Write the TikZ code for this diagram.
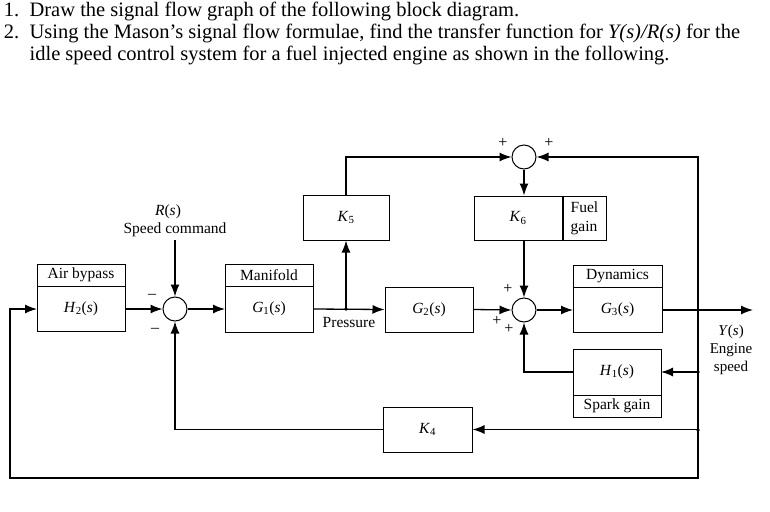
\documentclass[tikz,border=0pt]{standalone}
\usepackage{fontspec}
\setmainfont{Liberation Serif}
\usetikzlibrary{arrows.meta}
\newcommand{\tfn}[2]{\textit{#1}\textsubscript{#2}(\textit{s})}
\newcommand{\gn}[2]{\textit{#1}\textsubscript{#2}}
\begin{document}
\begin{tikzpicture}[x=1pt,y=-1pt,line width=1.3pt,
  blk/.style={draw,line width=1pt,inner sep=0pt},
  sum/.style={draw,line width=1pt,circle,minimum size=24pt,inner sep=0pt},
  lab/.style={font=\fontsize{15.5}{18}\selectfont},
  sg/.style={font=\fontsize{16}{16}\selectfont},
  hd/.style={anchor=west,font=\fontsize{20.5}{22}\selectfont},
  ar/.style={-{Latex[length=12pt,width=9pt]}}]
\useasboundingbox (0,0) rectangle (770,511);
% header
\node[hd] (q1) at (0,11) {1.\ \ Draw the signal flow graph of the following block diagram.};
\node[hd] (q2) at (0,33) {2.\ \ Using the Mason’s signal flow formulae, find the transfer function for \textit{Y(s)/R(s)} for the};
\node[hd] (q3) at (0,55) {\phantom{2.\ \ }idle speed control system for a fuel injected engine as shown in the following.};
% blocks
\draw[blk] (37,264) rectangle (125,331); \draw[line width=1pt] (37,286)--(125,286);
\node[lab] (ab) at (81,275) {Air bypass};
\node[lab] (h2) at (81,309) {\tfn{H}{2}};
\coordinate (h2w) at (37,309); \coordinate (h2e) at (125,309);
\draw[blk] (225,264) rectangle (313,332); \draw[line width=1pt] (225,286)--(313,286);
\node[lab] (mf) at (269,275) {Manifold};
\node[lab] (g1) at (269,309) {\tfn{G}{1}};
\coordinate (g1w) at (225,309); \coordinate (g1e) at (313,309);
\node[blk,minimum width=86pt,minimum height=45pt,lab] (k5) at (346,217.5) {\gn{K}{5}};
\node[blk,minimum width=88pt,minimum height=45pt,lab] (g2) at (429,309.5) {\tfn{G}{2}};
\node[blk,minimum width=88pt,minimum height=44pt,lab] (k6) at (518,218) {\gn{K}{6}};
\node[blk,anchor=west,minimum width=43pt,minimum height=44pt,lab,align=left,font=\fontsize{15.5}{19}\selectfont] (fg) at (k6.east) {Fuel\\gain};
\draw[blk] (573,265) rectangle (662,332); \draw[line width=1pt] (573,287)--(662,287);
\node[lab] (dy) at (617.5,276) {Dynamics};
\node[lab] (g3) at (617.5,310) {\tfn{G}{3}};
\coordinate (g3w) at (573,310); \coordinate (g3e) at (662,310);
\draw[blk] (573,349) rectangle (661,417); \draw[line width=1pt] (573,395)--(661,395);
\node[lab] (h1) at (617,372) {\tfn{H}{1}};
\node[lab] (sp) at (617,406) {Spark gain};
\coordinate (h1w) at (573,372); \coordinate (h1e) at (661,372);
\node[blk,minimum width=89pt,minimum height=45pt,lab] (k4) at (427.5,429.5) {\gn{K}{4}};
% summers
\node[sum] (s1) at (175,309) {};
\node[sum] (s2) at (524,310) {};
\node[sum] (s3) at (524,157) {};
% points
\coordinate (pb) at (346,309);
\coordinate (yb) at (698,310);
\coordinate (yo) at (753,310);
\coordinate (r0) at (175,240);
% labels
\node[lab] (rs) at (168,212) {\textit{R}(\textit{s})};
\node[lab] (sc) at (175,230) {Speed command};
\node[lab] (pr) at (349,322) {Pressure};
\node[lab,align=center,font=\fontsize{15}{18}\selectfont] (ys) at (731,350) {\textit{Y}(\textit{s})\\Engine\\speed};
\node[sg] (m1) at (152,296) {–};
\node[sg] (m2) at (155,330) {–};
\node[sg] (p1) at (503,143) {+};
\node[sg] (p2) at (549,143) {+};
\node[sg] (p3) at (508,289) {+};
\node[sg] (p4) at (497,321) {+};
\node[sg] (p5) at (509,329) {+};
% connections
\draw[ar] (r0) -- (s1.north);
\draw[ar] (h2e) -- (s1.west);
\draw[ar] (s1.east) -- (g1w);
\draw[ar] (g1e) -- (g2.west);
\draw[ar] (pb) -- (k5.south);
\fill (pb) circle (1.8pt);
\draw[ar] (k5.north) |- (s3.west);
\draw[ar] (s3.south) -- (s3.south |- k6.north);
\draw[ar] (s2.north |- k6.south) -- (s2.north);
\draw[ar] (g2.east) -- (s2.west);
\draw[ar] (s2.east) -- (g3w);
\draw[ar] (g3e) -- (yo);
\fill (yb) circle (1.8pt);
\draw[ar] (yb) |- (s3.east);
\draw[ar] (yb) |- (h1e);
\fill (698,372) circle (1.8pt);
\draw[ar] (h1w) -| (s2.south);
\draw[ar] (yb) |- (k4.east);
\fill (698,430) circle (1.8pt);
\draw[ar] (k4.west) -| (s1.south);
\draw[ar] (yb) |- (10,478) |- (h2w);
\end{tikzpicture}
\end{document}
